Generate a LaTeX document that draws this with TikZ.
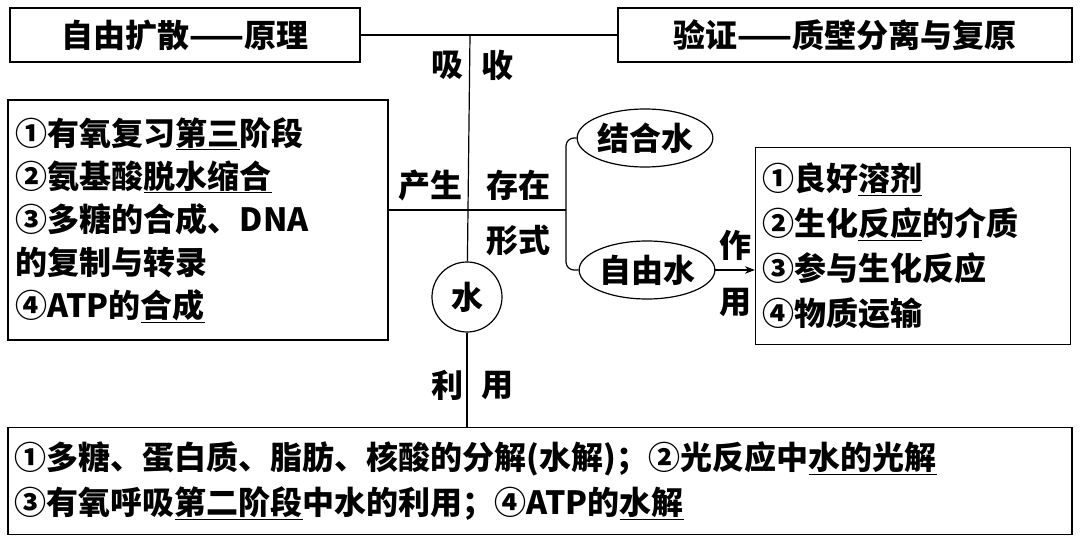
\documentclass[tikz,border=0pt]{standalone}
\usepackage{fontspec}
\setmainfont{Noto Sans CJK SC}
\usetikzlibrary{positioning,arrows.meta,shapes}
\tikzset{
  box/.style={draw, line width=1.2pt, inner sep=0pt},
  lst/.style={box, align=left, execute at begin node=\setlength{\baselineskip}{#1}},
  oval/.style={draw, ellipse, line width=1.2pt, minimum width=134pt, minimum height=58pt, inner sep=0pt},
  lbl/.style={inner sep=0pt},
}
\begin{document}
\begin{tikzpicture}[x=1pt, y=-1pt, line width=1.2pt, font=\fontsize{32}{38}\selectfont\bfseries]
	\useasboundingbox (0,0) rectangle (1080,551);
	\node[box, minimum width=350pt, minimum height=54pt] (ziyou) at (185,35) {自由扩散——原理};
	\node[box, minimum width=454pt, minimum height=54pt] (yz) at (845,35) {验证——质壁分离与复原};
	\node[lst=43pt, minimum width=380pt, minimum height=240pt, text width=364pt] (gen) at (198,220)
		{①有氧复习\underline{第三}阶段\\②氨基酸\underline{脱水缩合}\\③多糖的合成、DNA\\的复制与转录\\④ATP的\underline{合成}};
	\node[lst=45pt, minimum width=315pt, minimum height=197pt, text width=302pt] (zuo) at (913,246)
		{①良好\underline{溶剂}\\②生化\underline{反应}的介质\\③参与生化反应\\④物质运输};
	\node[lst=45pt, minimum width=1064pt, minimum height=107pt, text width=1050pt] (bot) at (540,481)
		{①多糖、蛋白质、脂肪、核酸的分解(水解)；②光反应中\underline{水的光解}\\③有氧呼吸\underline{第二阶段}中水的利用；④ATP的\underline{水解}};
	\node[draw, circle, minimum size=70pt, inner sep=0pt] (shui) at (467,297) {水};
	\node[oval] (jie) at (645,138) {结合水};
	\node[oval] (zi) at (647,270) {自由水};
	\coordinate (j1) at (470,35);
	\coordinate (br) at (566,210);
	\node[lbl] at (447,65) {吸};
	\node[lbl] at (497,65) {收};
	\node[lbl] at (430,185) {产生};
	\node[lbl] at (518,185) {存在};
	\node[lbl] at (518,240) {形式};
	\node[lbl] at (735,245) {作};
	\node[lbl] at (735,302) {用};
	\node[lbl] at (447,385) {利};
	\node[lbl] at (497,385) {用};
	\draw (ziyou.east) -- (yz.west);
	\draw (j1) -- (shui);
	\draw (shui) -- (bot.north -| shui);
	\draw (gen.east |- br) -- (br);
	\draw[rounded corners=8pt] (jie.west) -| (br) |- (zi.west);
	\draw[-{Stealth[length=10pt]}] (zi) -- (zuo.west |- zi);
\end{tikzpicture}
\end{document}
